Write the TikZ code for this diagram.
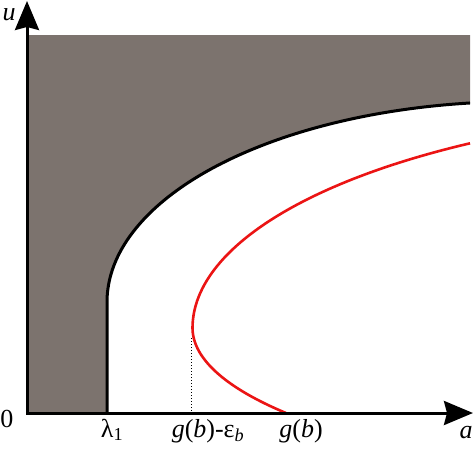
\documentclass[tikz,border=0pt]{standalone}
\usepackage{fontspec}
\setmainfont{Liberation Serif}
\usetikzlibrary{arrows.meta}
\definecolor{regiongray}{RGB}{124,115,110}
\definecolor{curvered}{RGB}{235,20,20}
\tikzset{
  axisline/.style={line width=3pt,-{Stealth[length=29pt,width=24pt,inset=3pt]}},
  boundary/.style={line width=3pt,black},
  redcurve/.style={line width=2.6pt,curvered},
  lbl/.style={font=\fontsize{26}{28}\selectfont,inner sep=0pt,anchor=base}
}
\begin{document}
\begin{tikzpicture}[x=1pt,y=-1pt]
\useasboundingbox (0,0) rectangle (474,448);
% gray region
\fill[regiongray] (27,413) -- (27,35) -- (470,35) -- (470,103)
  -- plot[domain=96.95:180,samples=90] ({520+413*cos(\x)},{302-200.5*sin(\x)})
  -- (107,413) -- cycle;
% black boundary
\draw[boundary,line join=round] (107,414.5) -- (107,302)
  -- plot[domain=180:96.95,samples=90] ({520+413*cos(\x)},{302-200.5*sin(\x)});
% red curve
\draw[redcurve,line join=round] plot[domain=147.8:180,samples=40] ({800+607.5*cos(\x)},{328+159.5*sin(\x)})
  -- plot[domain=180:122.9,samples=90] ({800+607.5*cos(\x)},{328-220*sin(\x)});
% dotted line
\coordinate (vtop) at (191.5,338);
\coordinate (vbot) at (191.5,413);
\draw[dotted,line width=1pt] (vtop) -- (vbot);
% axes
\coordinate (O) at (27,413);
\coordinate (xend) at (473,413);
\coordinate (yend) at (27,1);
\draw[axisline] (O) -- (xend);
\draw[axisline] (27,414.5) -- (yend);
% labels
\node[lbl] (u) at (9,20) {\textit{u}};
\node[lbl] (a) at (466,438) {\textit{a}};
\node[lbl] (zero) at (7,427) {0};
\node[lbl] (lam) at (112,437) {λ\textsubscript{1}};
\node[lbl] (geps) at (208,437) {\textit{g}(\textit{b})-ε\textsubscript{\textit{b}}};
\node[lbl] (gb) at (301,437) {\textit{g}(\textit{b})};
\end{tikzpicture}
\end{document}
